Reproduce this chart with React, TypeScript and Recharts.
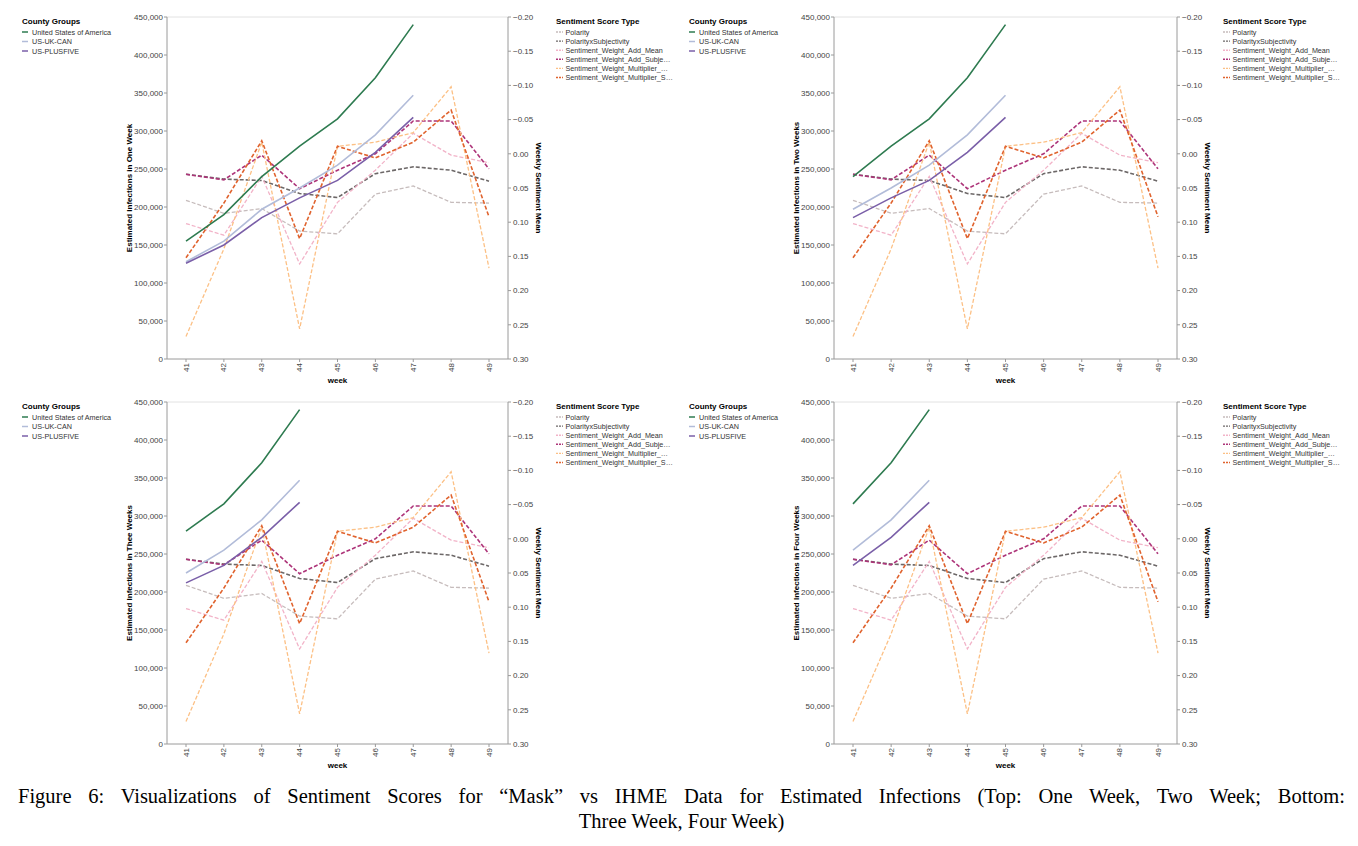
import React from 'react';
import { LineChart, Line, XAxis, YAxis, ReferenceLine } from 'recharts';

// ---- data ----
const weeks = ['41', '42', '43', '44', '45', '46', '47', '48', '49'];

// IHME estimated infections per county group (one-week lead starts at index 0)
const infectionsUSA = [155000, 190000, 240000, 280000, 316000, 370000, 440000];
const infectionsUKCAN = [128000, 155000, 197000, 225000, 255000, 295000, 347000];
const infectionsPlusFive = [126000, 150000, 186000, 212000, 235000, 272000, 318000];

// index of the infection arrays that lines up with week 41 in each panel
const panelStart = [0, 2, 3, 4];
const panelTitles = [
  'Estimated Infections in One Week',
  'Estimated Infections in Two Weeks',
  'Estimated Infections in Thee Weeks',
  'Estimated Infections in Four Weeks',
];

// weekly sentiment means for "Mask"
const polarity = [0.068, 0.087, 0.080, 0.113, 0.117, 0.059, 0.047, 0.071, 0.072];
const polarityXSubjectivity = [0.030, 0.037, 0.039, 0.058, 0.064, 0.029, 0.019, 0.024, 0.040];
const weightAddMean = [0.102, 0.119, 0.033, 0.161, 0.071, 0.024, -0.030, 0.002, 0.013];
const weightAddSubj = [0.030, 0.038, 0.002, 0.051, 0.024, 0.000, -0.048, -0.048, 0.022];
const weightMultMean = [0.267, 0.139, -0.017, 0.256, -0.011, -0.017, -0.031, -0.098, 0.167];
const weightMultSubj = [0.152, 0.072, -0.019, 0.124, -0.011, 0.006, -0.017, -0.064, 0.092];

const countyGroups = ['United States of America', 'US-UK-CAN', 'US-PLUSFIVE'];
const countyKeys = ['usa', 'ukcan', 'plus5'];
const countyColors = ['#2e7b50', '#b2bcd9', '#7a5fa8'];

const sentimentTypes = [
  'Polarity',
  'PolarityxSubjectivity',
  'Sentiment_Weight_Add_Mean',
  'Sentiment_Weight_Add_Subje…',
  'Sentiment_Weight_Multiplier_…',
  'Sentiment_Weight_Multiplier_S…',
];
const sentimentKeys = ['s0', 's1', 's2', 's3', 's4', 's5'];
const sentimentSeries = [polarity, polarityXSubjectivity, weightAddMean, weightAddSubj, weightMultMean, weightMultSubj];
const sentimentColors = ['#c6bcbc', '#6d6868', '#f2b3c8', '#ad3479', '#fcc085', '#e0632e'];
const sentimentWidths = [1.3, 1.6, 1.3, 1.6, 1.3, 1.6];

const infectionTicks = [0, 50000, 100000, 150000, 200000, 250000, 300000, 350000, 400000, 450000];
const sentimentTicks = [-0.2, -0.15, -0.1, -0.05, 0, 0.05, 0.1, 0.15, 0.2, 0.25, 0.3];

const captionLines = [
  'Figure 6: Visualizations of Sentiment Scores for \u201cMask\u201d vs IHME Data for Estimated Infections (Top: One Week, Two Week; Bottom:',
  'Three Week, Four Week)',
];

// ---- layout ----
const FONT = '"Liberation Sans", Arial, Helvetica, sans-serif';
const SERIF = '"Liberation Serif", "Times New Roman", serif';
const panels = [
  { left: 100, top: 0, width: 460 },
  { left: 767, top: 0, width: 462 },
  { left: 100, top: 385, width: 460 },
  { left: 767, top: 385, width: 462 },
];
const countyLegendPos = [
  { left: 20, top: 13 },
  { left: 687, top: 13 },
  { left: 20, top: 398 },
  { left: 687, top: 398 },
];
const sentimentLegendPos = [
  { left: 554, top: 13 },
  { left: 1221, top: 13 },
  { left: 554, top: 398 },
  { left: 1221, top: 398 },
];

function buildRows(start: number) {
  const sources = [infectionsUSA, infectionsUKCAN, infectionsPlusFive];
  return weeks.map((week, i) => {
    const row: Record<string, any> = { week };
    countyKeys.forEach((k, c) => {
      row[k] = sources[c][start + i];
    });
    sentimentKeys.forEach((k, s) => {
      row[k] = sentimentSeries[s][i];
    });
    return row;
  });
}

const fmtInfections = (v: number) => v.toLocaleString('en-US');
const fmtSentiment = (v: number) => (v < 0 ? '\u2212' + Math.abs(v).toFixed(2) : v.toFixed(2));

const WeekTick = (props: any) => {
  const { x, y, payload } = props;
  return (
    <text
      x={x}
      y={y}
      transform={`rotate(-90 ${x} ${y})`}
      textAnchor="end"
      dominantBaseline="central"
      fontSize={8}
      fill="#444"
      fontFamily={FONT}
    >
      {payload.value}
    </text>
  );
};

const tickStyle = { fontSize: 8, fill: '#444', fontFamily: FONT };
const titleStyle = { fontSize: 8, fontWeight: 'bold', fill: '#000', fontFamily: FONT, textAnchor: 'middle' } as any;

function Panel({ index }: { index: number }) {
  const p = panels[index];
  const rows = buildRows(panelStart[index]);
  return (
    <div style={{ position: 'absolute', left: p.left, top: p.top, width: p.width, height: 390 }}>
      <LineChart width={p.width} height={390} data={rows} margin={{ top: 17, right: 12, bottom: 5, left: 12 }}>
        <XAxis
          dataKey="week"
          interval={0}
          tick={<WeekTick />}
          tickSize={3}
          tickMargin={1}
          stroke="#9a9a9a"
          padding={{ left: 19, right: 19 }}
          height={26}
          label={{ value: 'week', position: 'insideBottom', offset: 2, style: titleStyle }}
        />
        <YAxis
          yAxisId="inf"
          domain={[0, 450000]}
          ticks={infectionTicks}
          tickFormatter={fmtInfections}
          width={55}
          tickSize={3}
          tickMargin={1}
          stroke="#9a9a9a"
          tick={tickStyle}
          interval={0}
          label={{ value: panelTitles[index], angle: -90, position: 'insideLeft', offset: 17, style: titleStyle }}
        />
        <YAxis
          yAxisId="sent"
          orientation="right"
          domain={[-0.2, 0.3]}
          reversed
          ticks={sentimentTicks}
          tickFormatter={fmtSentiment}
          width={40}
          tickSize={3}
          tickMargin={2}
          stroke="#9a9a9a"
          tick={tickStyle}
          interval={0}
          label={{ value: 'Weekly Sentiment Mean', angle: 90, position: 'insideRight', offset: 9, style: titleStyle }}
        />
        <ReferenceLine yAxisId="inf" y={450000} stroke="#e2e2e2" />
        {sentimentKeys.map((k, s) => (
          <Line
            key={k}
            yAxisId="sent"
            dataKey={k}
            type="linear"
            stroke={sentimentColors[s]}
            strokeWidth={sentimentWidths[s]}
            strokeDasharray="4 2"
            dot={false}
            isAnimationActive={false}
          />
        ))}
        {countyKeys.map((k, c) => (
          <Line
            key={k}
            yAxisId="inf"
            dataKey={k}
            type="linear"
            stroke={countyColors[c]}
            strokeWidth={1.6}
            dot={false}
            isAnimationActive={false}
          />
        ))}
      </LineChart>
    </div>
  );
}

function CountyLegend({ left, top }: { left: number; top: number }) {
  return (
    <svg style={{ position: 'absolute', left, top }} width={130} height={48}>
      <text x={2} y={11} fontSize={8} fontWeight="bold" fill="#000" fontFamily={FONT}>
        County Groups
      </text>
      {countyGroups.map((name, i) => {
        const cy = 19 + i * 9.5;
        return (
          <g key={name}>
            <line x1={2} x2={8} y1={cy} y2={cy} stroke={countyColors[i]} strokeWidth={1.5} />
            <text x={12} y={cy} dominantBaseline="central" fontSize={7.2} fill="#333" fontFamily={FONT}>
              {name}
            </text>
          </g>
        );
      })}
    </svg>
  );
}

function SentimentLegend({ left, top }: { left: number; top: number }) {
  return (
    <svg style={{ position: 'absolute', left, top }} width={135} height={72}>
      <text x={2} y={11} fontSize={8} fontWeight="bold" fill="#000" fontFamily={FONT}>
        Sentiment Score Type
      </text>
      {sentimentTypes.map((name, i) => {
        const cy = 19 + i * 9.1;
        return (
          <g key={name}>
            <line
              x1={2}
              x2={9}
              y1={cy}
              y2={cy}
              stroke={sentimentColors[i]}
              strokeWidth={1.4}
              strokeDasharray="2 1"
            />
            <text x={11.5} y={cy} dominantBaseline="central" fontSize={7.2} fill="#333" fontFamily={FONT}>
              {name}
            </text>
          </g>
        );
      })}
    </svg>
  );
}

export default function App() {
  return (
    <div style={{ position: 'absolute', left: 0, top: 0, width: 1358, height: 846, background: '#fff' }}>
      {panels.map((_, i) => (
        <Panel key={i} index={i} />
      ))}
      {countyLegendPos.map((pos, i) => (
        <CountyLegend key={'c' + i} left={pos.left} top={pos.top} />
      ))}
      {sentimentLegendPos.map((pos, i) => (
        <SentimentLegend key={'s' + i} left={pos.left} top={pos.top} />
      ))}
      {/* caption: first line justified across the page, second line centred */}
      <div
        style={{
          position: 'absolute',
          left: 18,
          top: 784,
          width: 1327,
          fontFamily: SERIF,
          fontSize: 20.5,
          lineHeight: '25px',
          color: '#000',
        }}
      >
        <div style={{ textAlign: 'justify', textAlignLast: 'justify', whiteSpace: 'normal' } as any}>
          {captionLines[0]}
        </div>
        <div style={{ textAlign: 'center', whiteSpace: 'nowrap' }}>{captionLines[1]}</div>
      </div>
    </div>
  );
}
